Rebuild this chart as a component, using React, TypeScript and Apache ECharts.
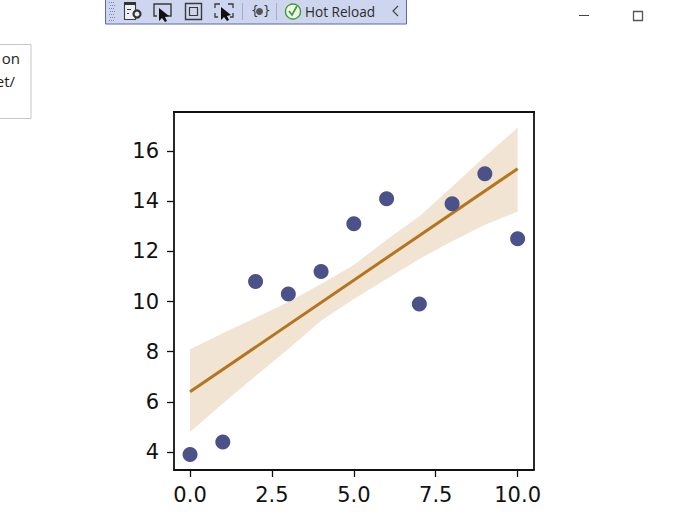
import React, { useEffect, useRef } from "react";
import * as echarts from "echarts";

const pointX = [0, 1, 2, 3, 4, 5, 6, 7, 8, 9, 10];
const pointY = [3.9, 4.4, 10.8, 10.3, 11.2, 13.1, 14.1, 9.9, 13.9, 15.1, 12.5];
const fitX = [0, 10];
const fitY = [6.4, 15.3];
const bandX = [0, 1, 2, 3, 4, 5, 6, 7, 8, 9, 10];
const bandUpper = [8.1, 8.73, 9.35, 9.98, 10.7, 11.46, 12.46, 13.4, 14.58, 15.78, 16.93];
const bandLower = [4.8, 5.93, 7.03, 8.11, 9.23, 10.1, 10.9, 11.7, 12.4, 13.06, 13.58];
const xTicks = [0, 2.5, 5, 7.5, 10];
const yTicks = [4, 6, 8, 10, 12, 14, 16];

const INK = "#3a3a3a";
const pathOpts = (x: number, y: number, d: number[][], color = INK, lineWidth = 1.5) => ({
  type: "polyline", silent: true,
  shape: { points: d.map(([a, b]) => [x + a, y + b]) },
  style: { stroke: color, fill: "none", lineWidth },
});

function toolbar() {
  const items: any[] = [];
  items.push({ type: "rect", shape: { x: 105.5, y: -2, width: 301, height: 26 }, style: { fill: "#ced6ef", stroke: "#5b69a6", lineWidth: 1 } });
  for (let r = 0; r < 7; r++) for (let c = 0; c < 3; c++) {
    items.push({ type: "rect", shape: { x: 109 + c * 2 + (r % 2), y: 2 + r * 3, width: 1, height: 1 }, style: { fill: "#7d86a8" } });
  }
  // Document with gear
  items.push({ type: "rect", shape: { x: 124.5, y: 3.5, width: 11, height: 16 }, style: { fill: "#eef0f8", stroke: "#3a3a3a", lineWidth: 1.1 } });
  items.push({ type: "rect", shape: { x: 124, y: 2, width: 12, height: 3 }, style: { fill: "#333" } });
  items.push({ type: "line", shape: { x1: 127, y1: 9.5, x2: 131, y2: 9.5 }, style: { stroke: "#333", lineWidth: 1 } });
  items.push({ type: "line", shape: { x1: 127, y1: 13.5, x2: 129, y2: 13.5 }, style: { stroke: "#333", lineWidth: 1 } });
  items.push({ type: "circle", shape: { cx: 137, cy: 14, r: 3.5 }, style: { fill: "#e8ebf6", stroke: "#333", lineWidth: 2.2 } });
  // Select element
  items.push(pathOpts(154, 3, [[3, 13], [0, 13], [0, 1], [17, 1], [17, 13], [12, 13]], INK, 1.4));
  items.push({ type: "polygon", shape: { points: [[159, 8], [159, 21], [162, 18], [165, 22], [167, 21], [165, 17], [169, 16]] }, style: { fill: "#111" } });
  // Layout adorner
  items.push({ type: "rect", shape: { x: 185.5, y: 3.5, width: 16, height: 16 }, style: { fill: "none", stroke: INK, lineWidth: 1.4 } });
  items.push({ type: "rect", shape: { x: 189.5, y: 7.5, width: 8, height: 8 }, style: { fill: "none", stroke: INK, lineWidth: 1.2 } });
  // Track focused
  items.push(pathOpts(215, 3, [[0, 5], [0, 1], [5, 1]], INK, 1.3));
  items.push(pathOpts(215, 3, [[13, 1], [18, 1], [18, 5]], INK, 1.3));
  items.push(pathOpts(215, 3, [[0, 10], [0, 14], [3, 14]], INK, 1.3));
  items.push(pathOpts(215, 3, [[15, 14], [18, 14], [18, 10]], INK, 1.3));
  items.push({ type: "polygon", shape: { points: [[221, 7], [221, 20], [224, 17], [227, 21], [229, 20], [227, 16], [231, 15]] }, style: { fill: "#111" } });
  // Separators
  items.push({ type: "line", shape: { x1: 242.5, y1: 3, x2: 242.5, y2: 20 }, style: { stroke: "#a3accb", lineWidth: 1 } });
  items.push({ type: "line", shape: { x1: 276.5, y1: 3, x2: 276.5, y2: 20 }, style: { stroke: "#a3accb", lineWidth: 1 } });
  // Binding icon
  items.push({ type: "text", x: 251, y: 11, style: { text: "{", font: "12px 'DejaVu Sans'", fill: "#333", verticalAlign: "middle" } });
  items.push({ type: "text", x: 263, y: 11, style: { text: "}", font: "12px 'DejaVu Sans'", fill: "#333", verticalAlign: "middle" } });
  items.push({ type: "circle", shape: { cx: 259.5, cy: 11.5, r: 3.5 }, style: { fill: "#555" } });
  // Hot reload
  items.push({ type: "circle", shape: { cx: 293, cy: 11.5, r: 7.5 }, style: { fill: "#eef6e8", stroke: "#3f9a3a", lineWidth: 1.4 } });
  items.push(pathOpts(293, 11, [[-4, 0], [-1, 4], [4, -5]], "#3f9a3a", 1.7));
  items.push({ type: "text", x: 305, y: 11.5, style: { text: "Hot Reload", font: "13.6px 'Open Sans'", fill: "#2b2b2b", verticalAlign: "middle" } });
  items.push(pathOpts(393, 6, [[5, 0], [0, 5], [5, 10]], "#444", 1.2));
  return items;
}

const overlays: any[] = [
  ...toolbar(),
  // Window controls
  { type: "line", shape: { x1: 579, y1: 15.5, x2: 589, y2: 15.5 }, style: { stroke: "#444", lineWidth: 1 } },
  { type: "rect", shape: { x: 633.5, y: 11.5, width: 9, height: 9 }, style: { fill: "none", stroke: "#555", lineWidth: 1.3 } },
  // Cropped tooltip box
  { type: "rect", shape: { x: -3, y: 44.5, width: 34, height: 74 }, style: { fill: "#fff", stroke: "#c4c4c4", lineWidth: 1 } },
  { type: "text", x: 20, y: 58, style: { text: "on", align: "right", verticalAlign: "middle", font: "15px 'Open Sans'", fill: "#222" } },
  { type: "text", x: 15, y: 81, style: { text: "et/", align: "right", verticalAlign: "middle", font: "15px 'Open Sans'", fill: "#222" } },
  // Frame: top and right
  { type: "line", shape: { x1: 173, y1: 112, x2: 535, y2: 112 }, style: { stroke: "#111", lineWidth: 1.8 } },
  { type: "line", shape: { x1: 534, y1: 112, x2: 534, y2: 470 }, style: { stroke: "#111", lineWidth: 1.8 } },
];

export default function App() {
  const ref = useRef<HTMLDivElement>(null);
  useEffect(() => {
    document.body.style.margin = "0";
    const chart = echarts.init(ref.current!, null, { renderer: "svg" });
    const band = bandX.map((x, i) => [x, bandLower[i], bandUpper[i]]);
    chart.setOption({
      animation: false,
      backgroundColor: "#fff",
      grid: { left: 174, right: 156, top: 112, bottom: 50, containLabel: false },
      xAxis: {
        type: "value", min: -0.49, max: 10.5,
        splitLine: { show: false },
        axisLine: { show: true, onZero: false, lineStyle: { color: "#111", width: 1.8 } },
        axisTick: { show: true, length: 7, lineStyle: { color: "#111", width: 1.3 }, customValues: xTicks },
        axisLabel: {
          color: "#111", fontSize: 21, fontFamily: "DejaVu Sans", margin: 14, hideOverlap: false, customValues: xTicks,
          showMinLabel: true, showMaxLabel: true,
          formatter: (v: number) => v.toFixed(1),
        },
      },
      yAxis: {
        type: "value", min: 3.28, max: 17.56,
        splitLine: { show: false },
        axisLine: { show: true, onZero: false, lineStyle: { color: "#111", width: 1.8 } },
        axisTick: { show: true, length: 7, lineStyle: { color: "#111", width: 1.3 }, customValues: yTicks },
        axisLabel: { color: "#111", fontSize: 21, fontFamily: "DejaVu Sans", margin: 15, customValues: yTicks },
      },
      series: [
        {
          type: "custom", silent: true, z: 1, clip: false, data: band,
          encode: { x: 0, y: [1, 2] },
          renderItem: (params: any, api: any) => {
            if (params.dataIndex !== 0) return null;
            const upper = band.map((b) => api.coord([b[0], b[2]]));
            const lower = band.map((b) => api.coord([b[0], b[1]])).reverse();
            return { type: "polygon", shape: { points: [...upper, ...lower] }, style: { fill: "#f1e4d3" } };
          },
        },
        { type: "line", z: 2, silent: true, showSymbol: false, data: fitX.map((x, i) => [x, fitY[i]]), lineStyle: { color: "#b5751f", width: 3 } },
        { type: "scatter", z: 3, silent: true, symbolSize: 15, data: pointX.map((x, i) => [x, pointY[i]]), itemStyle: { color: "#4a5289", opacity: 1 } },
      ],
      graphic: { elements: overlays },
    });
    return () => chart.dispose();
  }, []);
  return <div ref={ref} style={{ position: "absolute", left: 0, top: 0, width: 690, height: 520 }} />;
}
